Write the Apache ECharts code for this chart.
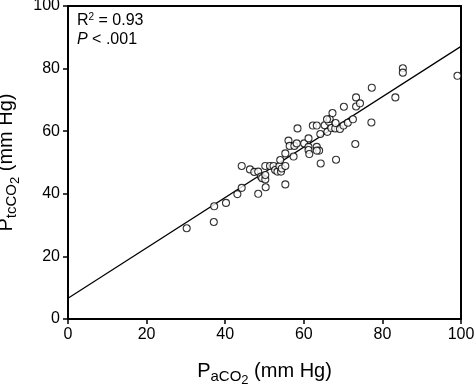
<!DOCTYPE html>
<html><head><meta charset="utf-8">
<script src="https://cdn.jsdelivr.net/npm/echarts@6/dist/echarts.min.js"></script>
<style>html,body{margin:0;padding:0;background:#fff}#c{width:474px;height:384px}</style>
</head><body><div id="c"></div>
<script>
const paco2 = [30.2,37.2,37.1,40.2,43.1,44.2,44.2,46.3,47.4,48.4,48.4,49.1,49.4,50.2,50.2,50.2,50.3,51.4,52.3,52.7,53.3,53.8,54.2,54.4,54.0,55.3,55.3,55.3,56.1,56.4,57.4,57.6,58.2,58.4,60.1,61.2,61.2,61.2,61.4,63.3,63.9,63.3,64.2,64.3,62.3,63.3,65.3,66.0,66.4,66.6,67.3,67.0,68.0,68.1,68.2,69.2,70.2,70.1,71.2,72.5,73.1,73.3,73.3,74.3,77.3,77.2,83.3,85.2,85.2,99.1,65.9];
const ptcco2 = [29.0,36.0,31.0,37.1,39.9,41.9,48.9,47.8,47.0,47.1,40.0,45.5,45.0,44.6,46.0,48.9,42.1,48.9,48.9,47.6,47.1,48.9,47.1,48.1,50.8,48.9,52.9,43.0,57.0,55.3,51.9,55.3,56.1,60.9,56.1,57.7,55.0,54.0,52.7,55.0,53.8,53.8,59.1,49.7,61.8,61.8,61.9,59.8,63.0,63.9,65.8,61.0,60.9,62.6,50.9,60.7,67.8,61.8,62.7,63.8,55.9,67.9,70.8,68.9,73.9,62.8,70.8,80.1,78.7,77.7,63.8];
const fitX = [0, 100];
const fitY = [6.6, 87.1];
const xTicks = [0,20,40,60,80,100];
const yTicks = [0,20,40,60,80,100];

const chart = echarts.init(document.getElementById('c'), null, {renderer:'canvas'});
const font = 'Arial, "Liberation Sans", sans-serif';
chart.setOption({
  animation:false,
  backgroundColor:'#fff',
  grid:{left:68,right:13,top:6,bottom:65,containLabel:false,outerBoundsMode:'none',show:true,borderColor:'#000',borderWidth:2,backgroundColor:'transparent'},
  xAxis:{type:'value',min:xTicks[0],max:xTicks[xTicks.length-1],interval:20,
    axisLine:{show:true,onZero:false,lineStyle:{color:'#000',width:2}},
    axisTick:{show:true,length:5,lineStyle:{color:'#000',width:1.5}},
    axisLabel:{color:'#000',fontSize:16,fontFamily:font,margin:8},
    splitLine:{show:false},
    name:'{m|P}{s|aCO}{t|2}{m| (mm Hg)}',nameLocation:'middle',nameGap:37,
    nameTextStyle:{rich:{
      m:{fontSize:20,fontFamily:font,color:'#000'},
      s:{fontSize:15,fontFamily:font,color:'#000',padding:[10,0,0,0]},
      t:{fontSize:13,fontFamily:font,color:'#000',padding:[18,0,0,0]}
    }}
  },
  yAxis:{type:'value',min:yTicks[0],max:yTicks[yTicks.length-1],interval:20,
    axisLine:{show:true,onZero:false,lineStyle:{color:'#000',width:2}},
    axisTick:{show:true,length:5,lineStyle:{color:'#000',width:1.5}},
    axisLabel:{color:'#000',fontSize:16,fontFamily:font,margin:8},
    splitLine:{show:false},
    name:'{m|P}{s|tcCO}{t|2}{m| (mm Hg)}',nameLocation:'middle',nameGap:38,
    nameTextStyle:{rich:{
      m:{fontSize:20,fontFamily:font,color:'#000'},
      s:{fontSize:15,fontFamily:font,color:'#000',padding:[10,0,0,0]},
      t:{fontSize:13,fontFamily:font,color:'#000',padding:[18,0,0,0]}
    }}
  },
  graphic:[
    {type:'text',left:77,top:12,style:{text:'{a|R}{b|2}{a| = 0.93}',rich:{
      a:{fontSize:16,fontFamily:font,fill:'#000'},
      b:{fontSize:10,fontFamily:font,fill:'#000',padding:[0,0,8,0]}}}},
    {type:'text',left:77,top:32,style:{text:'{i|P}{a| < .001}',rich:{
      a:{fontSize:16,fontFamily:font,fill:'#000'},
      i:{fontSize:16,fontFamily:font,fontStyle:'italic',fill:'#000'}}}}
  ],
  series:[
    {type:'line',data:fitX.map((x,i)=>[x,fitY[i]]),symbol:'none',lineStyle:{color:'#000',width:1.2},z:2},
    {type:'scatter',data:paco2.map((x,i)=>[x,ptcco2[i]]),symbol:'circle',symbolSize:7,
      itemStyle:{color:'#fff',borderColor:'#000',borderWidth:1.1},z:3}
  ]
});
</script></body></html>
